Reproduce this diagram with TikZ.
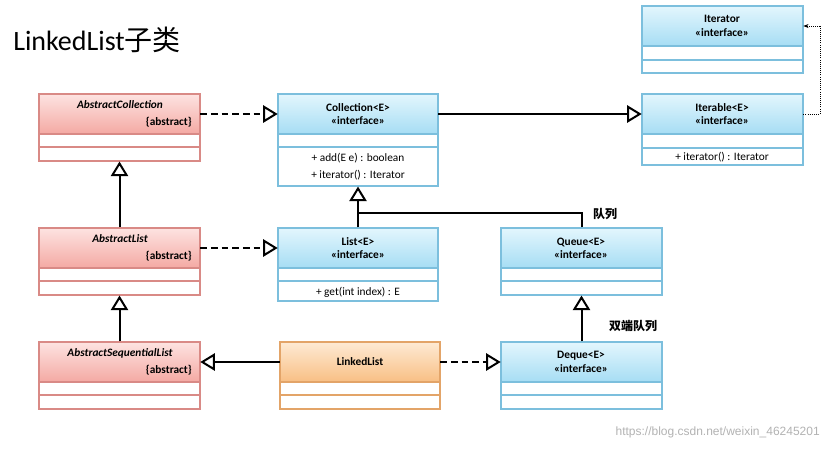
\documentclass[tikz,border=0pt]{standalone}
\usepackage{fontspec}
\setmainfont{Carlito}
\newfontfamily\cjk{Noto Sans CJK SC}
\newfontfamily\wm{Liberation Sans}
\usetikzlibrary{arrows.meta,fit}
\definecolor{redtop}{HTML}{FDE3E1}\definecolor{redbot}{HTML}{F4A9A3}\definecolor{redline}{HTML}{D98A86}
\definecolor{bluetop}{HTML}{E3F6FD}\definecolor{bluebot}{HTML}{A6DDF4}\definecolor{blueline}{HTML}{7CBFDD}
\definecolor{orgtop}{HTML}{FEEAD4}\definecolor{orgbot}{HTML}{F8BF84}\definecolor{orgline}{HTML}{E3A468}
\newcommand\cls[8]{%
 \shade[top color=#8top,bottom color=#8bot] (#2,#3) rectangle (#4,#6);
 \node[inner sep=0,fit={(#2,#3)(#4,#6)}] (#1h) {};
 \draw[#8line,line width=0.8pt] (#2,#6)--(#4,#6) (#2,#7)--(#4,#7);
 \node[draw=#8line,line width=0.8pt,inner sep=0,fit={(#2,#3)(#4,#5)}] (#1) {};
}
\begin{document}
\begin{tikzpicture}[x=0.75pt,y=-0.75pt,
 txt/.style={font=\fontsize{8.5}{10}\selectfont,inner sep=0},
 hd/.style={txt,font=\fontsize{8.5}{10}\selectfont\bfseries,align=center},
 con/.style={line width=1.5pt},
 inh/.style={con,-{Triangle[open,length=11pt,width=13pt,line width=1.5pt]}},
 real/.style={inh,dash pattern=on 5pt off 3pt}]
\useasboundingbox (0,0) rectangle (829,451);
\node[anchor=west,inner sep=0,font=\fontsize{21}{24}\selectfont] (title) at (13,40) {LinkedList{\cjk 子类}};
\cls{Itor}{642}{6}{803}{73}{46}{60}{blue}
\cls{Itbl}{642}{94}{803}{165}{134}{148}{blue}
\cls{Coll}{278}{94}{438}{186}{134}{147}{blue}
\cls{AC}{39}{94}{200}{161}{134}{147}{red}
\cls{AL}{39}{228}{200}{295}{268}{281}{red}
\cls{List}{278}{228}{438}{301}{268}{281}{blue}
\cls{Queue}{501}{228}{662}{295}{268}{281}{blue}
\cls{ASL}{39}{342}{200}{409}{382}{395}{red}
\cls{LL}{280}{342}{440}{409}{382}{395}{org}
\cls{Deque}{501}{342}{662}{409}{382}{395}{blue}
\node[hd] (t1) at (722,26) {Iterator\\\textless\textless interface\textgreater\textgreater};
\node[hd] (t2) at (722,114) {Iterable\textless E\textgreater\\\textless\textless interface\textgreater\textgreater};
\node[hd] (t3) at (358,114) {Collection\textless E\textgreater\\\textless\textless interface\textgreater\textgreater};
\node[hd] (t4) at (358,248) {List\textless E\textgreater\\\textless\textless interface\textgreater\textgreater};
\node[hd] (t5) at (581,248) {Queue\textless E\textgreater\\\textless\textless interface\textgreater\textgreater};
\node[hd] (t6) at (581,362) {Deque\textless E\textgreater\\\textless\textless interface\textgreater\textgreater};
\node[hd] (t7) at (360,362) {LinkedList};
\node[hd,font=\fontsize{8.5}{10}\selectfont\bfseries\itshape] (a1) at (120,105) {AbstractCollection};
\node[txt,font=\fontsize{8.5}{10}\selectfont\bfseries,anchor=east] (a2) at (192,122) {\{abstract\}};
\node[hd,font=\fontsize{8.5}{10}\selectfont\bfseries\itshape] (b1) at (120,239) {AbstractList};
\node[txt,font=\fontsize{8.5}{10}\selectfont\bfseries,anchor=east] (b2) at (192,256) {\{abstract\}};
\node[hd,font=\fontsize{8.5}{10}\selectfont\bfseries\itshape] (c1) at (120,353) {AbstractSequentialList};
\node[txt,font=\fontsize{8.5}{10}\selectfont\bfseries,anchor=east] (c2) at (192,370) {\{abstract\}};
\node[txt] (m1) at (358,158) {+ add(E e) : boolean};
\node[txt] (m2) at (358,175) {+ iterator() : Iterator};
\node[txt] (m3) at (722,157) {+ iterator() : Iterator};
\node[txt] (m4) at (358,292) {+ get(int index) : E};
\draw[real] (ACh.east) -- (Collh.west);
\draw[real] (ALh.east) -- (Listh.west);
\draw[real] (LLh.east) -- (Dequeh.west);
\draw[inh] (Collh.east) -- (Itblh.west);
\draw[inh] (AL.north) -- (AC.south);
\draw[inh] (ASL.north) -- (AL.south);
\draw[inh] (LLh.west) -- (ASLh.east);
\draw[inh] (Deque.north) -- (Queue.south);
\coordinate (j) at (358,213);
\draw[inh] (j) -- (Coll.south);
\draw[con] (List.north) -- (j);
\draw[con] (Queue.north) |- (j);
\coordinate (d) at (820,0);
\draw[densely dotted,line width=0.6pt,-{Stealth[length=4pt]}] (Itblh.east) -- (Itblh.east -| d) -- (Itorh.east -| d) -- (Itorh.east);
\node[txt,font=\fontsize{9}{10}\selectfont\cjk\bfseries] (q) at (605,214) {队列};
\node[txt,font=\fontsize{9}{10}\selectfont\cjk\bfseries] (dq) at (633,326) {双端队列};
\node[txt,anchor=east,text=gray!60,font=\fontsize{9}{10}\selectfont\wm] (w) at (820,432) {https://blog.csdn.net/weixin\_46245201};
\end{tikzpicture}
\end{document}
